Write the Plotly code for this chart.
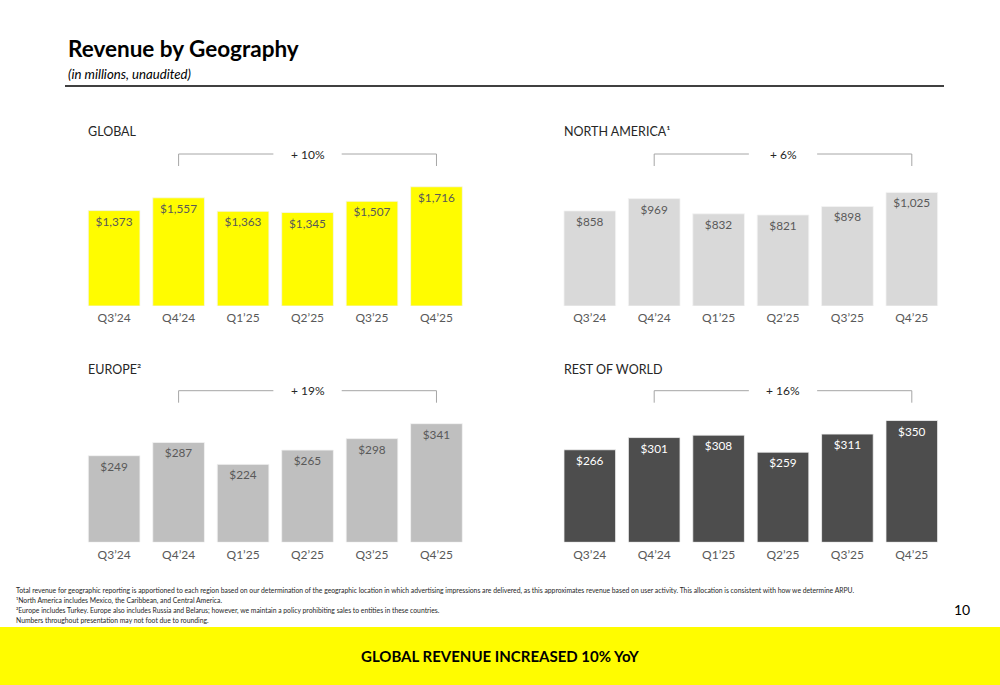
import plotly.graph_objects as go

quarters = ["Q3’24", "Q4’24", "Q1’25", "Q2’25", "Q3’25", "Q4’25"]
global_rev = [1373, 1557, 1363, 1345, 1507, 1716]
na_rev = [858, 969, 832, 821, 898, 1025]
europe_rev = [249, 287, 224, 265, 298, 341]
row_rev = [266, 301, 308, 259, 311, 350]

panel_titles = ["GLOBAL", "NORTH AMERICA¹", "EUROPE²", "REST OF WORLD"]
growth_labels = ["+ 10%", "+ 6%", "+ 19%", "+ 16%"]

W, H = 1000, 685
FONT = "Lato"
YELLOW = "#FFFC00"

def px_x(v):
    return v / W

def px_y(v):
    return 1 - v / H

panels = [
    dict(vals=global_rev, color=YELLOW, txt="#595959", xd=(81.9, 468.7), yd=(180, 306), rng=1813, ty=131, tx=86),
    dict(vals=na_rev, color="#D9D9D9", txt="#595959", xd=(557.6, 944.0), yd=(180, 306), rng=1137, ty=131, tx=562),
    dict(vals=europe_rev, color="#BFBFBF", txt="#595959", xd=(81.9, 468.7), yd=(416, 542.3), rng=363, ty=369, tx=86),
    dict(vals=row_rev, color="#4D4D4D", txt="#FFFFFF", xd=(557.6, 944.0), yd=(416, 542.3), rng=363, ty=369, tx=562),
]

fig = go.Figure()
shapes = []
annotations = []

for i, p in enumerate(panels):
    n = "" if i == 0 else str(i + 1)
    fig.add_trace(go.Bar(
        x=quarters, y=p["vals"], xaxis="x" + n, yaxis="y" + n,
        marker=dict(color=p["color"], line=dict(color="#F4F4F4", width=0.8)),
        texttemplate="$%{y:,}", textposition="inside", insidetextanchor="end",
        textangle=0, textfont=dict(family=FONT, size=11.8, color=p["txt"]),
        hoverinfo="skip", showlegend=False,
    ))
    fig.update_layout(**{
        "xaxis" + n: dict(domain=[px_x(p["xd"][0]), px_x(p["xd"][1])], anchor="y" + n,
                          showgrid=False, zeroline=False, showline=False,
                          ticks="outside", ticklen=1, tickcolor="rgba(0,0,0,0)",
                          tickfont=dict(family=FONT, size=12, color="#595959"),
                          fixedrange=True),
        "yaxis" + n: dict(domain=[px_y(p["yd"][1]), px_y(p["yd"][0])], anchor="x" + n,
                          range=[0, p["rng"]], visible=False, fixedrange=True),
    })
    annotations.append(dict(text=panel_titles[i], x=px_x(p["tx"]), y=px_y(p["ty"]),
                            xref="paper", yref="paper", xanchor="left", yanchor="middle",
                            showarrow=False, font=dict(family=FONT, size=12.5, color="#262626")))
    by = p["yd"][0] - 26 if i < 2 else p["yd"][0] - 25.3
    bracket_y = px_y(by)
    tick_y = px_y(by + 12)
    xr = "x" + n
    lc = dict(color="#A6A6A6", width=1)
    shapes += [
        dict(type="line", xref=xr, yref="paper", x0=1, x1=2.47, y0=bracket_y, y1=bracket_y, line=lc),
        dict(type="line", xref=xr, yref="paper", x0=3.53, x1=5, y0=bracket_y, y1=bracket_y, line=lc),
        dict(type="line", xref=xr, yref="paper", x0=1, x1=1, y0=bracket_y, y1=tick_y, line=lc),
        dict(type="line", xref=xr, yref="paper", x0=5, x1=5, y0=bracket_y, y1=tick_y, line=lc),
    ]
    annotations.append(dict(text=growth_labels[i], x=3.0, y=bracket_y, xref=xr, yref="paper",
                            xanchor="center", yanchor="middle", showarrow=False,
                            font=dict(family=FONT, size=12, color="#262626")))

annotations.append(dict(text="<b>Revenue by Geography</b>", x=px_x(66), y=px_y(48), xref="paper", yref="paper",
                        xanchor="left", yanchor="middle", showarrow=False,
                        font=dict(family=FONT, size=22.5, color="#000000")))
annotations.append(dict(text="<i>(in millions, unaudited)</i>", x=px_x(66), y=px_y(74), xref="paper", yref="paper",
                        xanchor="left", yanchor="middle", showarrow=False,
                        font=dict(family=FONT, size=13.2, color="#000000")))
shapes.append(dict(type="line", xref="paper", yref="paper", x0=px_x(65), x1=px_x(944),
                   y0=px_y(86), y1=px_y(86), line=dict(color="#000000", width=1.5)))

footnotes = [
    "Total revenue for geographic reporting is apportioned to each region based on our determination of the geographic location in which advertising impressions are delivered, as this approximates revenue based on user activity. This allocation is consistent with how we determine ARPU.",
    "¹North America includes Mexico, the Caribbean, and Central America.",
    "²Europe includes Turkey. Europe also includes Russia and Belarus; however, we maintain a policy prohibiting sales to entities in these countries.",
    "Numbers throughout presentation may not foot due to rounding.",
]
for k, t in enumerate(footnotes):
    annotations.append(dict(text=t, x=px_x(14), y=px_y(590 + 10 * k), xref="paper", yref="paper",
                            xanchor="left", yanchor="middle", showarrow=False,
                            font=dict(family=FONT, size=6.8, color="#262626")))
annotations.append(dict(text="10", x=px_x(972), y=px_y(609), xref="paper", yref="paper",
                        xanchor="right", yanchor="middle", showarrow=False,
                        font=dict(family=FONT, size=14, color="#000000")))

shapes.append(dict(type="rect", xref="paper", yref="paper", x0=0, x1=1, y0=0, y1=px_y(627),
                   fillcolor=YELLOW, line=dict(width=0), layer="below"))
annotations.append(dict(text="<b>GLOBAL REVENUE INCREASED 10% YoY</b>", x=0.5, y=px_y(656),
                        xref="paper", yref="paper", xanchor="center", yanchor="middle", showarrow=False,
                        font=dict(family=FONT, size=15, color="#000000")))

fig.update_layout(
    width=W, height=H, margin=dict(l=0, r=0, t=0, b=0),
    paper_bgcolor="#FFFFFF", plot_bgcolor="#FFFFFF",
    bargap=0.198, shapes=shapes, annotations=annotations,
    font=dict(family=FONT),
)

fig.write_html("out.html", config={"displayModeBar": False})
